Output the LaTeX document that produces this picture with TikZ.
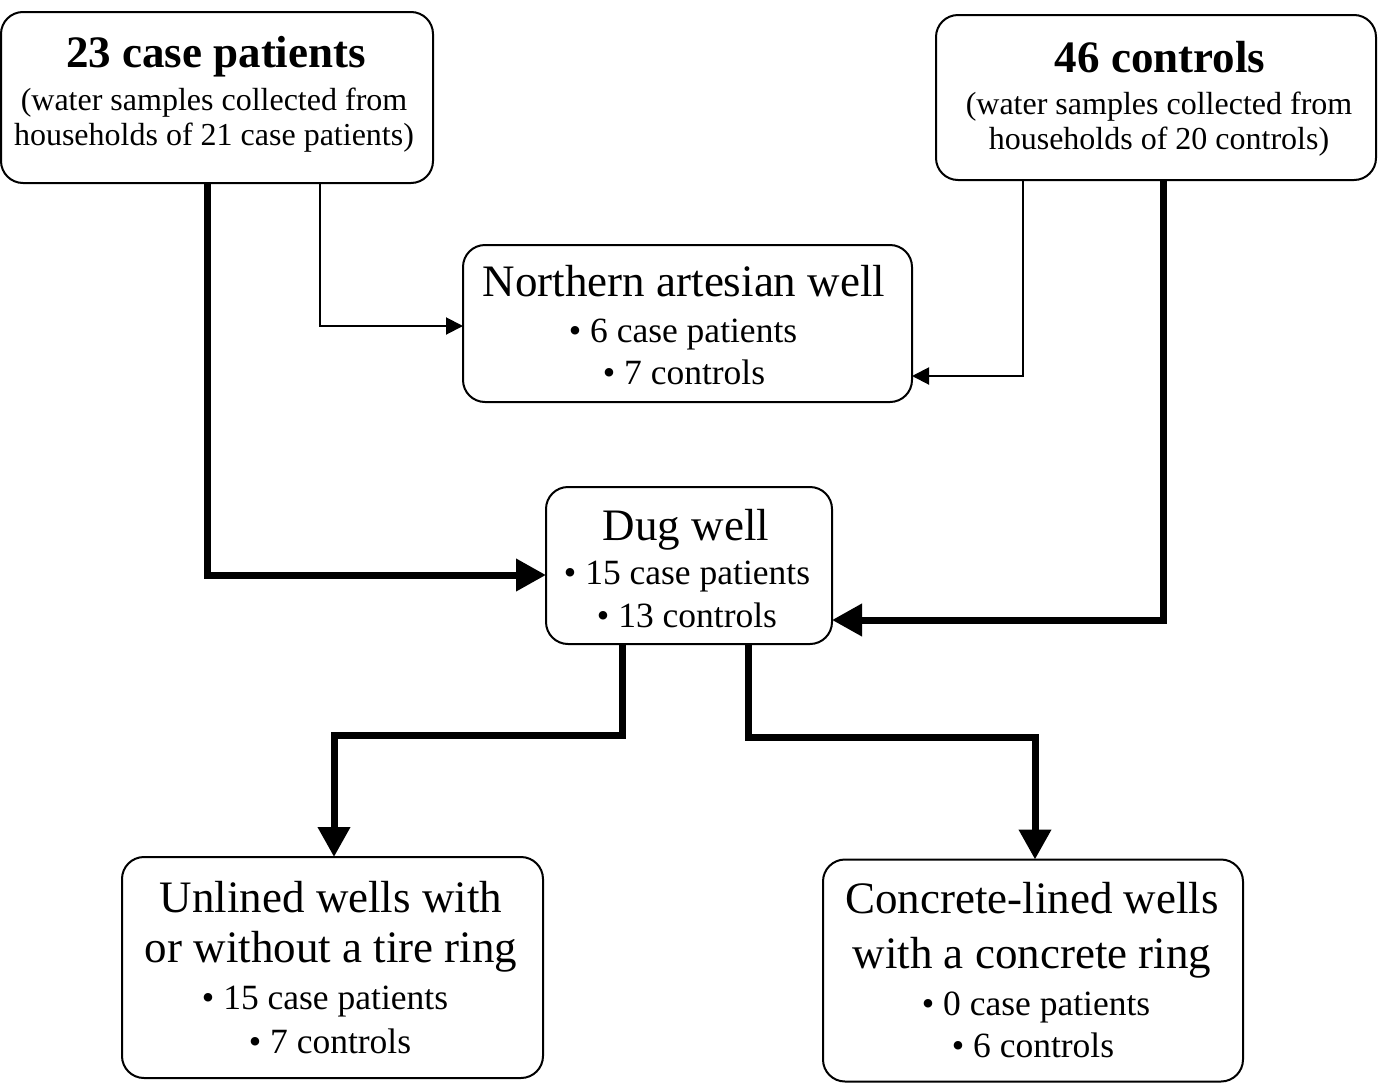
\documentclass[tikz,border=0pt]{standalone}
\usepackage{fontspec}
\setmainfont{Liberation Serif}
\usetikzlibrary{arrows.meta}
\newcommand\ftitle{\fontsize{45}{45}\selectfont}
\newcommand\fbul{\fontsize{35.5}{35.5}\selectfont}
\newcommand\fparen{\fontsize{32}{32}\selectfont}
\tikzset{
  box/.style={draw=black, line width=2pt, rounded corners=22pt, fill=white, inner sep=0pt, outer sep=0pt},
  txt/.style={anchor=base, inner sep=0pt, outer sep=0pt, text=black},
  thinarr/.style={draw=black, line width=2pt, -{Triangle[length=17pt, width=17pt]}},
  thickarr/.style={draw=black, line width=7pt, -{Triangle[length=30pt, width=31pt]}}
}
\begin{document}
\begin{tikzpicture}[x=1pt, y=-1pt]
\useasboundingbox (0,0) rectangle (1392,1090);
\fill[white] (0,0) rectangle (1392,1090);

% boxes
\node[box, minimum width=432pt, minimum height=171pt] (A) at (217,97.5) {};
\node[box, minimum width=440pt, minimum height=165pt] (B) at (1156,97.5) {};
\node[box, minimum width=449pt, minimum height=157pt] (N) at (687.5,323.5) {};
\node[box, minimum width=286pt, minimum height=157pt] (D) at (689,565.5) {};
\node[box, minimum width=421pt, minimum height=221pt] (U) at (332.5,967.5) {};
\node[box, minimum width=420pt, minimum height=222pt] (C) at (1033,970.5) {};

% texts
\node[txt, font=\ftitle\bfseries] (A1) at (216,67) {23 case patients};
\node[txt, font=\fparen] (A2) at (214,110) {(water samples collected from};
\node[txt, font=\fparen] (A3) at (214,145) {households of 21 case patients)};

\node[txt, font=\ftitle\bfseries] (B1) at (1160,72) {46 controls};
\node[txt, font=\fparen] (B2) at (1159,114) {(water samples collected from};
\node[txt, font=\fparen] (B3) at (1159,149) {households of 20 controls)};

\node[txt, font=\ftitle] (N1) at (684,296) {Northern artesian well};
\node[txt, font=\fbul] (N2) at (683,342) {• 6 case patients};
\node[txt, font=\fbul] (N3) at (684,384) {• 7 controls};

\node[txt, font=\ftitle] (D1) at (686,540) {Dug well};
\node[txt, font=\fbul] (D2) at (687,584) {• 15 case patients};
\node[txt, font=\fbul] (D3) at (687,627) {• 13 controls};

\node[txt, font=\ftitle] (U1) at (331,912) {Unlined wells with};
\node[txt, font=\ftitle] (U2) at (331,962) {or without a tire ring};
\node[txt, font=\fbul] (U3) at (325,1009) {• 15 case patients};
\node[txt, font=\fbul] (U4) at (330,1053) {• 7 controls};

\node[txt, font=\ftitle] (C1) at (1032,913) {Concrete-lined wells};
\node[txt, font=\ftitle] (C2) at (1032,968) {with a concrete ring};
\node[txt, font=\fbul] (C3) at (1036,1015) {• 0 case patients};
\node[txt, font=\fbul] (C4) at (1033,1057) {• 6 controls};

% bend points
\coordinate (ta) at (320,326);
\coordinate (tb) at (1023,376);
\coordinate (ka) at (207,575);
\coordinate (kb) at (1163,620);
\coordinate (du1) at (622,735);
\coordinate (du2) at (334,735);
\coordinate (dc1) at (748,737);
\coordinate (dc2) at (1035,737);

% connectors
\draw[thinarr] (A.south -| ta) |- (N.west |- ta);
\draw[thinarr] (B.south -| tb) |- (N.east |- tb);
\draw[thickarr] (A.south -| ka) |- (D.west |- ka);
\draw[thickarr] (B.south -| kb) |- (D.east |- kb);
\draw[thickarr] (D.south -| du1) |- (du2) -- (U.north -| du2);
\draw[thickarr] (D.south -| dc1) |- (dc2) -- (C.north -| dc2);
\end{tikzpicture}
\end{document}
